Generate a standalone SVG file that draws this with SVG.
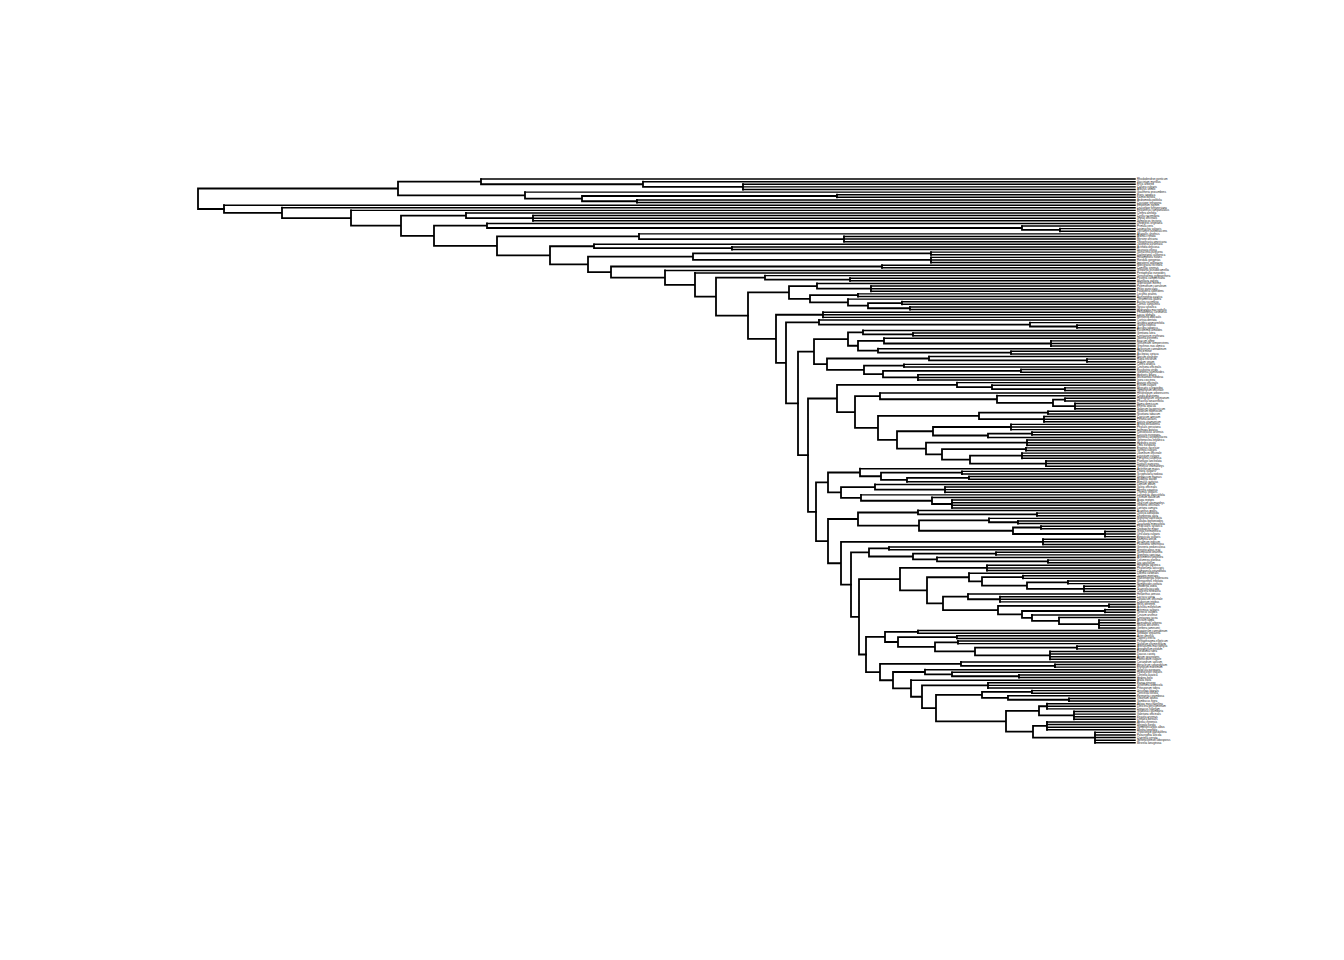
<svg xmlns="http://www.w3.org/2000/svg" width="1344" height="960" viewBox="0 0 1344 960">
<style>
.br{fill:none;stroke:#000;stroke-width:1.8;stroke-linecap:square}
.tp{fill:none;stroke:#000;stroke-width:1.45;stroke-linecap:square}
.lab{font-family:"Liberation Sans",Arial,sans-serif;font-size:2.8px;fill:#222}
</style>
<rect width="1344" height="960" fill="#fff"/>
<g id="connectors">
<g id="upper-clade">
<path class="br" d="M198 188.5V209M198 188.5H398M198 209H224M398 181.66V195.37M398 181.66H481M398 195.37H525M481 179.05V184.27M481 184.27H643M643 181.66V186.88M643 186.88H743M743 184.27V189.49M525 192.1V198.63M525 198.63H582M582 196.02V201.24M582 196.02H837M582 201.24H637M837 194.71V197.32M637 199.93V202.54"/>
</g>
<g id="backbone-upper">
<path class="br" d="M224 205.15V212.9M224 212.9H282M282 207.76V218.04M282 218.04H351M351 210.37V225.7M351 225.7H401M401 215.59V235.8M401 215.59H466M401 235.8H434M466 212.98V218.2M466 218.2H533M533 215.59V220.81M434 225.7V245.9M434 225.7H487M434 245.9H497M487 223.42V227.99M487 227.99H1022M1022 226.03V229.95M1022 229.95H1060M1060 228.64V231.25M497 236.47V255.3M497 236.47H639M497 255.3H550M639 233.86V239.08M639 239.08H844M844 236.47V241.69M550 246.26V264.35M550 246.26H594M550 264.35H588M594 244.3V248.22M594 248.22H732M732 246.91V249.52M588 256.7V272.05M588 256.7H693M588 272.05H611M693 253.44V259.96M693 253.44H931M693 259.96H931M931 252.13V254.74M931 257.35V262.57M611 266.49V277.6M611 266.49H882M611 277.6H665M882 265.18V267.79M665 270.4V284.8M665 284.8H695M695 273.01V296.6M695 296.6H716M716 277.58V315.6M716 277.58H765M716 315.6H748M765 275.62V279.54M765 279.54H850M850 278.23V280.84"/>
</g>
<g id="clade-748">
<path class="br" d="M748 292.4V338.8M748 292.4H789M748 338.8H776M789 286.06V298.79M789 286.06H817M789 298.79H810M817 283.45V288.67M817 288.67H871M871 286.06V291.28M810 295.2V302.38M810 295.2H858M810 302.38H848M858 293.89V296.5M848 299.11V305.64M848 305.64H868M868 303.03V308.25M868 303.03H902M868 308.25H910M902 301.72V304.33M910 306.94V309.55M776 314.77V362.84M776 314.77H823M776 362.84H786M823 312.16V317.38M786 322.28V403.39M786 322.28H819M786 403.39H798M819 319.99V324.56M819 324.56H1030M1030 322.6V326.52M1030 326.52H1077M1077 325.21V327.82"/>
</g>
<g id="clade-814">
<path class="br" d="M798 351.64V455.14M798 351.64H814M798 455.14H808M814 339.08V364.2M814 339.08H848M814 364.2H827M848 332.39V345.77M848 332.39H863M848 345.77H858M863 330.43V334.35M863 334.35H913M913 333.04V335.65M858 340.87V350.66M858 340.87H884M858 350.66H878M884 338.26V343.48M884 343.48H1051M1051 340.87V346.09M878 348.7V352.62M878 352.62H1011M1011 351.31V353.92M827 358.49V369.91M827 358.49H929M827 369.91H864M929 356.53V360.45M929 360.45H1087M1087 359.14V361.75M864 365.67V374.15M864 365.67H904M864 374.15H883M904 364.36V366.97M883 370.89V377.41M883 370.89H1021M883 377.41H918M1021 369.58V372.19M918 374.8V380.02"/>
</g>
<g id="clade-837">
<path class="br" d="M808 398.48V511.8M808 398.48H837M808 511.8H816M837 384.92V412.04M837 384.92H957M837 412.04H855M957 382.63V387.2M957 387.2H992M992 385.24V389.16M992 389.16H1065M1065 387.85V390.46M855 396.17V427.9M855 396.17H880M855 427.9H878M880 393.07V399.27M880 399.27H997M997 395.68V402.86M997 402.86H1053M1053 399.6V406.12M1053 399.6H1065M1053 406.12H1075M1065 398.29V400.9M1075 403.51V408.73M878 415.91V439.89M878 415.91H979M878 439.89H897M979 412.65V419.17M979 412.65H1048M979 419.17H1044M1048 411.34V413.95M1044 416.56V421.78M897 431.24V448.54M897 431.24H933M897 448.54H926M933 427V435.49M933 427H1011M933 435.49H988M1011 424.39V429.61M988 433.53V437.44M988 433.53H1032M1032 432.22V434.83M926 442.66V454.41M926 442.66H1027M926 454.41H942M1027 440.05V445.27M942 449.19V459.63M942 449.19H1026M942 459.63H970M1026 447.88V450.49M970 455.71V463.54M970 455.71H1022M970 463.54H1046M1022 453.1V458.32M1046 460.93V466.15"/>
</g>
<g id="clade-816">
<path class="br" d="M816 482.47V541.12M816 482.47H828M816 541.12H828M828 472.52V492.41M828 472.52H860M828 492.41H841M860 468.76V476.27M860 476.27H881M881 472.68V479.86M881 472.68H962M881 479.86H907M962 471.37V473.98M907 477.9V481.81M907 477.9H969M969 476.59V479.2M841 487.03V497.8M841 487.03H875M841 497.8H861M875 484.42V489.64M875 489.64H945M945 487.03V492.25M861 494.86V500.73M861 500.73H932M932 497.47V504M932 504H952M952 500.08V507.91M828 519V563.24M828 519H858M828 563.24H841M858 512.48V525.53M858 512.48H918M858 525.53H919M918 510.52V514.44M918 514.44H1037M1037 513.13V515.74M919 520.31V530.75M919 520.31H989M919 530.75H1013M989 518.35V522.27M989 522.27H1018M1018 520.96V523.57M1013 527.49V534.01M1013 527.49H1041M1013 534.01H1105M1041 526.18V528.79M1105 531.4V536.62M841 541.84V584.64M841 541.84H1043M841 584.64H851M1043 539.23V544.45"/>
</g>
<g id="clade-851">
<path class="br" d="M851 552.45V616.82M851 552.45H869M851 616.82H859M869 548.37V556.52M869 548.37H889M869 556.52H913M889 547.06V549.67M913 553.59V559.46M913 553.59H996M913 559.46H937M996 552.28V554.89M937 557.5V561.42M937 561.42H1048M1048 560.11V562.72M859 579.13V654.5M859 579.13H900M859 654.5H866M900 567.94V590.32M900 567.94H987M900 590.32H927M987 565.33V570.55M927 577.24V603.39M927 577.24H969M927 603.39H943M969 573.16V581.32M969 581.32H982M982 577.08V585.56M982 577.08H1023M982 585.56H1027M1023 575.77V578.38M1027 582.3V588.82M1027 582.3H1068M1027 588.82H1084M1068 580.99V583.6M1084 586.21V591.43M943 596.65V610.12M943 596.65H968M943 610.12H998M968 594.04V599.26M968 599.26H1000M1000 596.65V601.87M998 605.79V614.44M998 605.79H1109M998 614.44H1022M1109 604.48V607.09M1022 611.01V617.86M1022 611.01H1105M1022 617.86H1032M1105 609.7V612.31M1032 614.92V620.8M1032 620.8H1059M1059 617.53V624.06M1059 624.06H1099M1099 620.14V627.97"/>
</g>
<g id="clade-866">
<path class="br" d="M866 636.95V672.05M866 636.95H885M866 672.05H880M885 631.89V642M885 631.89H918M885 642H898M918 630.58V633.19M898 637.1V646.9M898 637.1H957M898 646.9H935M957 635.8V638.41M935 642.33V651.46M935 642.33H958M935 651.46H975M958 641.02V643.63M975 647.55V655.38M975 647.55H1077M975 655.38H1050M1077 646.24V648.85M1050 651.46V659.29M880 663.86V680.23M880 663.86H961M880 680.23H893M961 661.9V665.82M961 665.82H1055M1055 664.51V667.12M893 672.01V688.45M893 672.01H925M893 688.45H911M925 669.73V674.3M925 674.3H952M952 672.34V676.26M952 676.26H1019M1019 674.95V677.56M911 680.17V696.73M911 696.73H922M922 685.39V708.07M922 685.39H988M922 708.07H936M988 682.78V688M936 694.85V721.28M936 694.85H982M936 721.28H1006M982 691.92V697.79M982 691.92H1032M982 697.79H1008M1032 690.61V693.22M1008 695.83V699.75M1008 699.75H1069M1069 698.44V701.05M1006 710.84V731.72M1006 710.84H1039M1006 731.72H1033M1039 706.27V715.4M1039 706.27H1047M1039 715.4H1074M1047 703.66V708.88M1074 711.49V719.32M1033 725.84V737.59M1033 725.84H1047M1033 737.59H1095M1047 721.93V729.76M1095 732.37V742.81"/>
</g>
<g id="tip-branches">
<path class="tp" d="M481 179.05H1135M643 181.66H1135M743 184.27H1135M743 186.88H1135M743 189.49H1135M525 192.1H1135M837 194.71H1135M837 197.32H1135M637 199.93H1135M637 202.54H1135M224 205.15H1135M282 207.76H1135M351 210.37H1135M466 212.98H1135M533 215.59H1135M533 218.2H1135M533 220.81H1135M487 223.42H1135M1022 226.03H1135M1060 228.64H1135M1060 231.25H1135M639 233.86H1135M844 236.47H1135M844 239.08H1135M844 241.69H1135M594 244.3H1135M732 246.91H1135M732 249.52H1135M931 252.13H1135M931 254.74H1135M931 257.35H1135M931 259.96H1135M931 262.57H1135M882 265.18H1135M882 267.79H1135M665 270.4H1135M695 273.01H1135M765 275.62H1135M850 278.23H1135M850 280.84H1135M817 283.45H1135M871 286.06H1135M871 288.67H1135M871 291.28H1135M858 293.89H1135M858 296.5H1135M848 299.11H1135M902 301.72H1135M902 304.33H1135M910 306.94H1135M910 309.55H1135M823 312.16H1135M823 314.77H1135M823 317.38H1135M819 319.99H1135M1030 322.6H1135M1077 325.21H1135M1077 327.82H1135M863 330.43H1135M913 333.04H1135M913 335.65H1135M884 338.26H1135M1051 340.87H1135M1051 343.48H1135M1051 346.09H1135M878 348.7H1135M1011 351.31H1135M1011 353.92H1135M929 356.53H1135M1087 359.14H1135M1087 361.75H1135M904 364.36H1135M904 366.97H1135M1021 369.58H1135M1021 372.19H1135M918 374.8H1135M918 377.41H1135M918 380.02H1135M957 382.63H1135M992 385.24H1135M1065 387.85H1135M1065 390.46H1135M880 393.07H1135M997 395.68H1135M1065 398.29H1135M1065 400.9H1135M1075 403.51H1135M1075 406.12H1135M1075 408.73H1135M1048 411.34H1135M1048 413.95H1135M1044 416.56H1135M1044 419.17H1135M1044 421.78H1135M1011 424.39H1135M1011 427H1135M1011 429.61H1135M1032 432.22H1135M1032 434.83H1135M988 437.44H1135M1027 440.05H1135M1027 442.66H1135M1027 445.27H1135M1026 447.88H1135M1026 450.49H1135M1022 453.1H1135M1022 455.71H1135M1022 458.32H1135M1046 460.93H1135M1046 463.54H1135M1046 466.15H1135M860 468.76H1135M962 471.37H1135M962 473.98H1135M969 476.59H1135M969 479.2H1135M907 481.81H1135M875 484.42H1135M945 487.03H1135M945 489.64H1135M945 492.25H1135M861 494.86H1135M932 497.47H1135M952 500.08H1135M952 502.69H1135M952 505.3H1135M952 507.91H1135M918 510.52H1135M1037 513.13H1135M1037 515.74H1135M989 518.35H1135M1018 520.96H1135M1018 523.57H1135M1041 526.18H1135M1041 528.79H1135M1105 531.4H1135M1105 534.01H1135M1105 536.62H1135M1043 539.23H1135M1043 541.84H1135M1043 544.45H1135M889 547.06H1135M889 549.67H1135M996 552.28H1135M996 554.89H1135M937 557.5H1135M1048 560.11H1135M1048 562.72H1135M987 565.33H1135M987 567.94H1135M987 570.55H1135M969 573.16H1135M1023 575.77H1135M1023 578.38H1135M1068 580.99H1135M1068 583.6H1135M1084 586.21H1135M1084 588.82H1135M1084 591.43H1135M968 594.04H1135M1000 596.65H1135M1000 599.26H1135M1000 601.87H1135M1109 604.48H1135M1109 607.09H1135M1105 609.7H1135M1105 612.31H1135M1032 614.92H1135M1059 617.53H1135M1099 620.14H1135M1099 622.75H1135M1099 625.36H1135M1099 627.97H1135M918 630.58H1135M918 633.19H1135M957 635.8H1135M957 638.41H1135M958 641.02H1135M958 643.63H1135M1077 646.24H1135M1077 648.85H1135M1050 651.46H1135M1050 654.07H1135M1050 656.68H1135M1050 659.29H1135M961 661.9H1135M1055 664.51H1135M1055 667.12H1135M925 669.73H1135M952 672.34H1135M1019 674.95H1135M1019 677.56H1135M911 680.17H1135M988 682.78H1135M988 685.39H1135M988 688H1135M1032 690.61H1135M1032 693.22H1135M1008 695.83H1135M1069 698.44H1135M1069 701.05H1135M1047 703.66H1135M1047 706.27H1135M1047 708.88H1135M1074 711.49H1135M1074 714.1H1135M1074 716.71H1135M1074 719.32H1135M1047 721.93H1135M1047 724.54H1135M1047 727.15H1135M1047 729.76H1135M1095 732.37H1135M1095 734.98H1135M1095 737.59H1135M1095 740.2H1135M1095 742.81H1135"/>
</g>
</g>
<g id="tip-labels">
<text class="lab"><tspan x="1137" y="180.05">Rhododendron ponticum</tspan><tspan x="1137" dy="2.61">Vaccinium myrtillus</tspan><tspan x="1137" dy="2.61">Erica arborea</tspan><tspan x="1137" dy="2.61">Calluna vulgaris</tspan><tspan x="1137" dy="2.61">Arbutus unedo</tspan><tspan x="1137" dy="2.61">Gaultheria procumbens</tspan><tspan x="1137" dy="2.61">Pieris japonica</tspan><tspan x="1137" dy="2.61">Kalmia latifolia</tspan><tspan x="1137" dy="2.61">Andromeda polifolia</tspan><tspan x="1137" dy="2.61">Cassiope tetragona</tspan><tspan x="1137" dy="2.61">Empetrum nigrum</tspan><tspan x="1137" dy="2.61">Leucothoe fontanesiana</tspan><tspan x="1137" dy="2.61">Enkianthus campanulatus</tspan><tspan x="1137" dy="2.61">Clethra alnifolia</tspan><tspan x="1137" dy="2.61">Cyrilla racemiflora</tspan><tspan x="1137" dy="2.61">Styrax officinalis</tspan><tspan x="1137" dy="2.61">Symplocos tinctoria</tspan><tspan x="1137" dy="2.61">Diospyros virginiana</tspan><tspan x="1137" dy="2.61">Primula veris</tspan><tspan x="1137" dy="2.61">Lysimachia vulgaris</tspan><tspan x="1137" dy="2.61">Cyclamen purpurascens</tspan><tspan x="1137" dy="2.61">Anagallis arvensis</tspan><tspan x="1137" dy="2.61">Ardisia crenata</tspan><tspan x="1137" dy="2.61">Myrsine africana</tspan><tspan x="1137" dy="2.61">Theophrasta americana</tspan><tspan x="1137" dy="2.61">Jacquinia aurantiaca</tspan><tspan x="1137" dy="2.61">Actinidia deliciosa</tspan><tspan x="1137" dy="2.61">Saurauia villosa</tspan><tspan x="1137" dy="2.61">Sarracenia purpurea</tspan><tspan x="1137" dy="2.61">Darlingtonia californica</tspan><tspan x="1137" dy="2.61">Heliamphora nutans</tspan><tspan x="1137" dy="2.61">Roridula gorgonias</tspan><tspan x="1137" dy="2.61">Impatiens walleriana</tspan><tspan x="1137" dy="2.61">Marcgravia rectiflora</tspan><tspan x="1137" dy="2.61">Camellia sinensis</tspan><tspan x="1137" dy="2.61">Stewartia pseudocamellia</tspan><tspan x="1137" dy="2.61">Pentaphylax euryoides</tspan><tspan x="1137" dy="2.61">Ternstroemia gymnanthera</tspan><tspan x="1137" dy="2.61">Pouteria campechiana</tspan><tspan x="1137" dy="2.61">Manilkara zapota</tspan><tspan x="1137" dy="2.61">Sideroxylon inerme</tspan><tspan x="1137" dy="2.61">Polemonium caeruleum</tspan><tspan x="1137" dy="2.61">Phlox paniculata</tspan><tspan x="1137" dy="2.61">Fouquieria splendens</tspan><tspan x="1137" dy="2.61">Lecythis pisonis</tspan><tspan x="1137" dy="2.61">Barringtonia asiatica</tspan><tspan x="1137" dy="2.61">Tetramerista glabra</tspan><tspan x="1137" dy="2.61">Euclea racemosa</tspan><tspan x="1137" dy="2.61">Cornus sanguinea</tspan><tspan x="1137" dy="2.61">Nyssa sylvatica</tspan><tspan x="1137" dy="2.61">Hydrangea macrophylla</tspan><tspan x="1137" dy="2.61">Philadelphus coronarius</tspan><tspan x="1137" dy="2.61">Loasa triphylla</tspan><tspan x="1137" dy="2.61">Mentzelia albicaulis</tspan><tspan x="1137" dy="2.61">Curtisia dentata</tspan><tspan x="1137" dy="2.61">Grubbia rosmarinifolia</tspan><tspan x="1137" dy="2.61">Garrya elliptica</tspan><tspan x="1137" dy="2.61">Aucuba japonica</tspan><tspan x="1137" dy="2.61">Eucommia ulmoides</tspan><tspan x="1137" dy="2.61">Gentiana lutea</tspan><tspan x="1137" dy="2.61">Centaurium erythraea</tspan><tspan x="1137" dy="2.61">Swertia perennis</tspan><tspan x="1137" dy="2.61">Exacum affine</tspan><tspan x="1137" dy="2.61">Gelsemium sempervirens</tspan><tspan x="1137" dy="2.61">Strychnos nux-vomica</tspan><tspan x="1137" dy="2.61">Apocynum cannabinum</tspan><tspan x="1137" dy="2.61">Vinca minor</tspan><tspan x="1137" dy="2.61">Asclepias syriaca</tspan><tspan x="1137" dy="2.61">Nerium oleander</tspan><tspan x="1137" dy="2.61">Rubia tinctorum</tspan><tspan x="1137" dy="2.61">Galium verum</tspan><tspan x="1137" dy="2.61">Coffea arabica</tspan><tspan x="1137" dy="2.61">Cinchona officinalis</tspan><tspan x="1137" dy="2.61">Psychotria viridis</tspan><tspan x="1137" dy="2.61">Gardenia jasminoides</tspan><tspan x="1137" dy="2.61">Hedyotis biflora</tspan><tspan x="1137" dy="2.61">Mussaenda frondosa</tspan><tspan x="1137" dy="2.61">Ixora coccinea</tspan><tspan x="1137" dy="2.61">Borago officinalis</tspan><tspan x="1137" dy="2.61">Echium vulgare</tspan><tspan x="1137" dy="2.61">Myosotis scorpioides</tspan><tspan x="1137" dy="2.61">Symphytum officinale</tspan><tspan x="1137" dy="2.61">Heliotropium arborescens</tspan><tspan x="1137" dy="2.61">Cordia dichotoma</tspan><tspan x="1137" dy="2.61">Hydrophyllum virginianum</tspan><tspan x="1137" dy="2.61">Phacelia tanacetifolia</tspan><tspan x="1137" dy="2.61">Nama demissum</tspan><tspan x="1137" dy="2.61">Ehretia anacua</tspan><tspan x="1137" dy="2.61">Solanum lycopersicum</tspan><tspan x="1137" dy="2.61">Solanum tuberosum</tspan><tspan x="1137" dy="2.61">Nicotiana tabacum</tspan><tspan x="1137" dy="2.61">Capsicum annuum</tspan><tspan x="1137" dy="2.61">Petunia axillaris</tspan><tspan x="1137" dy="2.61">Datura stramonium</tspan><tspan x="1137" dy="2.61">Atropa belladonna</tspan><tspan x="1137" dy="2.61">Physalis peruviana</tspan><tspan x="1137" dy="2.61">Ipomoea batatas</tspan><tspan x="1137" dy="2.61">Convolvulus arvensis</tspan><tspan x="1137" dy="2.61">Cuscuta europaea</tspan><tspan x="1137" dy="2.61">Montinia caryophyllacea</tspan><tspan x="1137" dy="2.61">Sphenoclea zeylanica</tspan><tspan x="1137" dy="2.61">Hydrolea ovata</tspan><tspan x="1137" dy="2.61">Olea europaea</tspan><tspan x="1137" dy="2.61">Fraxinus excelsior</tspan><tspan x="1137" dy="2.61">Syringa vulgaris</tspan><tspan x="1137" dy="2.61">Jasminum officinale</tspan><tspan x="1137" dy="2.61">Ligustrum vulgare</tspan><tspan x="1137" dy="2.61">Forsythia suspensa</tspan><tspan x="1137" dy="2.61">Plantago lanceolata</tspan><tspan x="1137" dy="2.61">Digitalis purpurea</tspan><tspan x="1137" dy="2.61">Veronica chamaedrys</tspan><tspan x="1137" dy="2.61">Antirrhinum majus</tspan><tspan x="1137" dy="2.61">Linaria vulgaris</tspan><tspan x="1137" dy="2.61">Scrophularia nodosa</tspan><tspan x="1137" dy="2.61">Verbascum thapsus</tspan><tspan x="1137" dy="2.61">Buddleja davidii</tspan><tspan x="1137" dy="2.61">Mimulus guttatus</tspan><tspan x="1137" dy="2.61">Lamium album</tspan><tspan x="1137" dy="2.61">Salvia officinalis</tspan><tspan x="1137" dy="2.61">Mentha aquatica</tspan><tspan x="1137" dy="2.61">Thymus vulgaris</tspan><tspan x="1137" dy="2.61">Lavandula angustifolia</tspan><tspan x="1137" dy="2.61">Ocimum basilicum</tspan><tspan x="1137" dy="2.61">Ajuga reptans</tspan><tspan x="1137" dy="2.61">Teucrium chamaedrys</tspan><tspan x="1137" dy="2.61">Verbena officinalis</tspan><tspan x="1137" dy="2.61">Lantana camara</tspan><tspan x="1137" dy="2.61">Acanthus mollis</tspan><tspan x="1137" dy="2.61">Justicia adhatoda</tspan><tspan x="1137" dy="2.61">Thunbergia alata</tspan><tspan x="1137" dy="2.61">Bignonia capreolata</tspan><tspan x="1137" dy="2.61">Catalpa bignonioides</tspan><tspan x="1137" dy="2.61">Jacaranda mimosifolia</tspan><tspan x="1137" dy="2.61">Pedicularis sylvatica</tspan><tspan x="1137" dy="2.61">Orobanche minor</tspan><tspan x="1137" dy="2.61">Striga hermonthica</tspan><tspan x="1137" dy="2.61">Utricularia vulgaris</tspan><tspan x="1137" dy="2.61">Pinguicula vulgaris</tspan><tspan x="1137" dy="2.61">Martynia annua</tspan><tspan x="1137" dy="2.61">Sesamum indicum</tspan><tspan x="1137" dy="2.61">Paulownia tomentosa</tspan><tspan x="1137" dy="2.61">Gesneria pedunculosa</tspan><tspan x="1137" dy="2.61">Streptocarpus rexii</tspan><tspan x="1137" dy="2.61">Saintpaulia ionantha</tspan><tspan x="1137" dy="2.61">Sinningia speciosa</tspan><tspan x="1137" dy="2.61">Achimenes longiflora</tspan><tspan x="1137" dy="2.61">Columnea gloriosa</tspan><tspan x="1137" dy="2.61">Ilex aquifolium</tspan><tspan x="1137" dy="2.61">Helwingia japonica</tspan><tspan x="1137" dy="2.61">Phyllonoma laticuspis</tspan><tspan x="1137" dy="2.61">Campanula rotundifolia</tspan><tspan x="1137" dy="2.61">Lobelia cardinalis</tspan><tspan x="1137" dy="2.61">Jasione montana</tspan><tspan x="1137" dy="2.61">Wahlenbergia hederacea</tspan><tspan x="1137" dy="2.61">Menyanthes trifoliata</tspan><tspan x="1137" dy="2.61">Nymphoides peltata</tspan><tspan x="1137" dy="2.61">Goodenia ovata</tspan><tspan x="1137" dy="2.61">Scaevola taccada</tspan><tspan x="1137" dy="2.61">Calycera herbacea</tspan><tspan x="1137" dy="2.61">Helianthus annuus</tspan><tspan x="1137" dy="2.61">Lactuca sativa</tspan><tspan x="1137" dy="2.61">Taraxacum officinale</tspan><tspan x="1137" dy="2.61">Cichorium intybus</tspan><tspan x="1137" dy="2.61">Bellis perennis</tspan><tspan x="1137" dy="2.61">Achillea millefolium</tspan><tspan x="1137" dy="2.61">Artemisia vulgaris</tspan><tspan x="1137" dy="2.61">Senecio vulgaris</tspan><tspan x="1137" dy="2.61">Cirsium arvense</tspan><tspan x="1137" dy="2.61">Centaurea jacea</tspan><tspan x="1137" dy="2.61">Arctium lappa</tspan><tspan x="1137" dy="2.61">Barnadesia arborea</tspan><tspan x="1137" dy="2.61">Mutisia decurrens</tspan><tspan x="1137" dy="2.61">Gerbera jamesonii</tspan><tspan x="1137" dy="2.61">Eupatorium cannabinum</tspan><tspan x="1137" dy="2.61">Solidago virgaurea</tspan><tspan x="1137" dy="2.61">Aster amellus</tspan><tspan x="1137" dy="2.61">Tagetes erecta</tspan><tspan x="1137" dy="2.61">Pentaphragma ellipticum</tspan><tspan x="1137" dy="2.61">Stylidium graminifolium</tspan><tspan x="1137" dy="2.61">Alseuosmia macrophylla</tspan><tspan x="1137" dy="2.61">Argophyllum nitidum</tspan><tspan x="1137" dy="2.61">Escallonia rubra</tspan><tspan x="1137" dy="2.61">Daucus carota</tspan><tspan x="1137" dy="2.61">Apium graveolens</tspan><tspan x="1137" dy="2.61">Foeniculum vulgare</tspan><tspan x="1137" dy="2.61">Coriandrum sativum</tspan><tspan x="1137" dy="2.61">Heracleum sphondylium</tspan><tspan x="1137" dy="2.61">Eryngium maritimum</tspan><tspan x="1137" dy="2.61">Sanicula europaea</tspan><tspan x="1137" dy="2.61">Hydrocotyle vulgaris</tspan><tspan x="1137" dy="2.61">Centella asiatica</tspan><tspan x="1137" dy="2.61">Hedera helix</tspan><tspan x="1137" dy="2.61">Aralia elata</tspan><tspan x="1137" dy="2.61">Panax ginseng</tspan><tspan x="1137" dy="2.61">Schefflera arboricola</tspan><tspan x="1137" dy="2.61">Pittosporum tobira</tspan><tspan x="1137" dy="2.61">Griselinia littoralis</tspan><tspan x="1137" dy="2.61">Torricellia tiliifolia</tspan><tspan x="1137" dy="2.61">Pennantia corymbosa</tspan><tspan x="1137" dy="2.61">Viburnum opulus</tspan><tspan x="1137" dy="2.61">Sambucus nigra</tspan><tspan x="1137" dy="2.61">Adoxa moschatellina</tspan><tspan x="1137" dy="2.61">Lonicera periclymenum</tspan><tspan x="1137" dy="2.61">Dipsacus fullonum</tspan><tspan x="1137" dy="2.61">Scabiosa columbaria</tspan><tspan x="1137" dy="2.61">Valeriana officinalis</tspan><tspan x="1137" dy="2.61">Knautia arvensis</tspan><tspan x="1137" dy="2.61">Linnaea borealis</tspan><tspan x="1137" dy="2.61">Abelia chinensis</tspan><tspan x="1137" dy="2.61">Weigela florida</tspan><tspan x="1137" dy="2.61">Symphoricarpos albus</tspan><tspan x="1137" dy="2.61">Morina longifolia</tspan><tspan x="1137" dy="2.61">Triplostegia glandulifera</tspan><tspan x="1137" dy="2.61">Paracryphia alticola</tspan><tspan x="1137" dy="2.61">Quintinia serrata</tspan><tspan x="1137" dy="2.61">Sphenostemon lobosporus</tspan><tspan x="1137" dy="2.61">Berzelia lanuginosa</tspan></text>
</g>
</svg>
